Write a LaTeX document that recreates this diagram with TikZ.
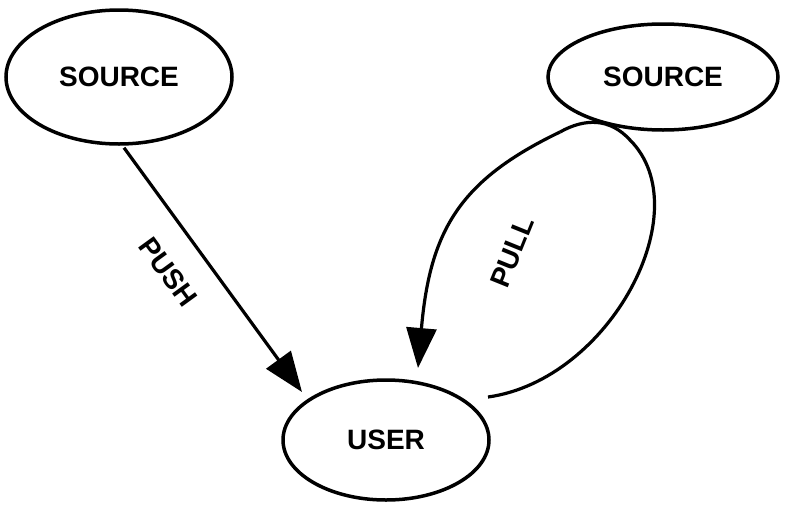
\documentclass[tikz,border=0pt]{standalone}
\usepackage{fontspec}
\setmainfont{Liberation Sans}
\usetikzlibrary{arrows.meta,shapes.geometric}
\begin{document}
\begin{tikzpicture}[x=1pt,y=-1pt,
  ell/.style={draw,line width=3.5pt,ellipse,minimum width=#1,inner sep=0pt},
  lbl/.style={font=\bfseries\fontsize{28}{28}\selectfont},
  arr/.style={line width=3.2pt,-{Triangle[length=40pt,width=30pt]}}]
\useasboundingbox (0,0) rectangle (786,517);
\node[ell=226pt,minimum height=134pt,lbl] (s1) at (119,77) {SOURCE};
\node[ell=230pt,minimum height=106pt,lbl] (s2) at (663,77) {SOURCE};
\node[ell=206pt,minimum height=120pt,lbl] (u) at (386,440) {USER};
\draw[arr] (s1.south) ++(5,2) coordinate (a) -- (302,392) coordinate (b);
\node[lbl,rotate=-54] (push) at (168,272) {PUSH};
\coordinate (c) at (488,397);
\draw[line width=3.2pt] (c) .. controls (610,380) and (700,210) .. (630,140)
  .. controls (610,118) and (585,118) .. (560,132);
\draw[arr] (560,132) .. controls (460,180) and (430,230) .. (418,368);
\node[lbl,rotate=68] (pull) at (512,252) {PULL};
\end{tikzpicture}
\end{document}
